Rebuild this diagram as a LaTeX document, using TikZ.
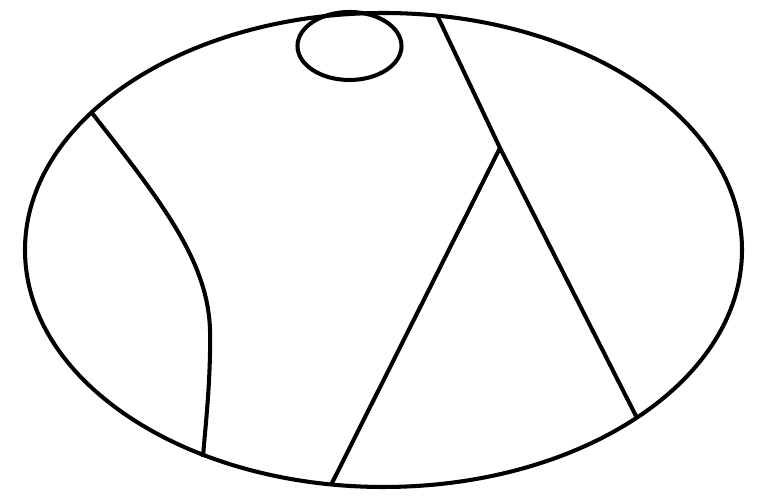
\documentclass[tikz,border=0pt]{standalone}
\usepackage{tikz}

\begin{document}
\begin{tikzpicture}[x=0.01cm, y=-0.01cm, line width=1.15pt]
                % 枠
                \useasboundingbox (0, 0) rectangle (766, 498);

                % 外側の楕円
                \draw (383.5, 250) ellipse [x radius=358.5, y radius=237];
                % 上の小さい楕円
                \draw (349.5, 46) ellipse [x radius=52, y radius=34];

                % 交点
                \coordinate (J) at (500, 148);

                % 左の曲線
                \draw (92, 113) .. controls (160, 200) and (208, 260) .. (210, 330)
                    .. controls (211, 380) and (205, 430) .. (203, 457);

                % 右の直線
                \draw (437, 15) -- (J) -- (636, 416);
                \draw (J) -- (331, 485);

            \end{tikzpicture}
\end{document}
